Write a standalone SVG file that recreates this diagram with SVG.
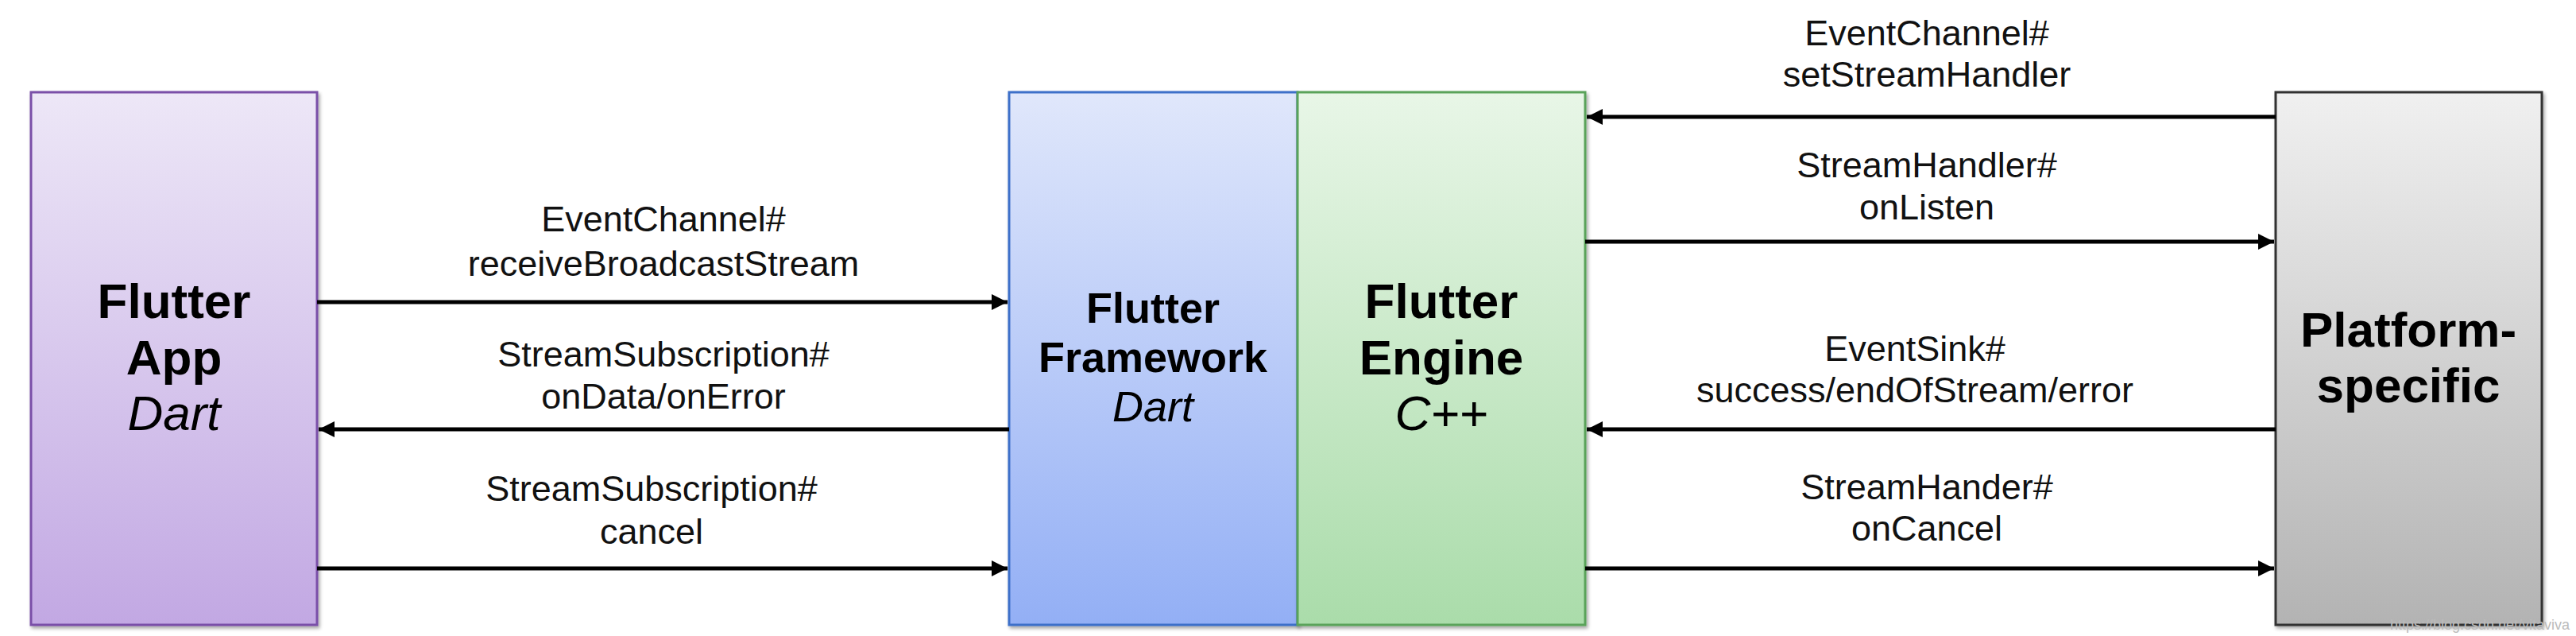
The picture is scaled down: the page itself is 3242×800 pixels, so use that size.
<svg xmlns="http://www.w3.org/2000/svg" width="3242" height="800" viewBox="0 0 3242 800">
<defs>
<linearGradient id="gp" x1="0" y1="0" x2="0" y2="1"><stop offset="0" stop-color="#ede7f7"/><stop offset="1" stop-color="#c2a8e3"/></linearGradient>
<linearGradient id="gb" x1="0" y1="0" x2="0" y2="1"><stop offset="0" stop-color="#e0e7fb"/><stop offset="1" stop-color="#93aff5"/></linearGradient>
<linearGradient id="gg" x1="0" y1="0" x2="0" y2="1"><stop offset="0" stop-color="#e8f6e7"/><stop offset="1" stop-color="#aadcaa"/></linearGradient>
<linearGradient id="gy" x1="0" y1="0" x2="0" y2="1"><stop offset="0" stop-color="#f0f0f0"/><stop offset="1" stop-color="#b3b3b3"/></linearGradient>
<filter id="sh" x="-5%" y="-5%" width="110%" height="110%"><feDropShadow dx="2" dy="3" stdDeviation="2" flood-opacity="0.35"/></filter>
<marker id="ah" viewBox="0 0 10 10" refX="10" refY="5" markerWidth="4" markerHeight="4" orient="auto-start-reverse"><path d="M0,0 L10,5 L0,10 z" fill="#000"/></marker>
</defs>
<style>
.t{font-family:"Liberation Sans",Arial,sans-serif;text-anchor:middle}
.b{font-weight:bold;fill:#000}
.i{font-style:italic}
.l{font-size:45px;fill:#111}
.c{stroke:#000;stroke-width:5;fill:none}
</style>
<rect width="3242" height="800" fill="#fff"/>
<g id="app">
<rect x="39" y="116" width="360" height="670" fill="url(#gp)" stroke="#7a4fa8" stroke-width="3" filter="url(#sh)"/>
<text class="t b" font-size="62" x="219" y="400">Flutter</text>
<text class="t b" font-size="62" x="219" y="471">App</text>
<text class="t i" font-size="62" x="219" y="541">Dart</text>
</g>
<g id="framework">
<rect x="1270" y="116" width="363" height="670" fill="url(#gb)" stroke="#3d6fc9" stroke-width="3" filter="url(#sh)"/>
<text class="t b" font-size="54" x="1451" y="406">Flutter</text>
<text class="t b" font-size="54" x="1451" y="468">Framework</text>
<text class="t i" font-size="54" x="1451" y="530">Dart</text>
</g>
<g id="engine">
<rect x="1633" y="116" width="362" height="670" fill="url(#gg)" stroke="#5aa35a" stroke-width="3" filter="url(#sh)"/>
<text class="t b" font-size="62" x="1814" y="400">Flutter</text>
<text class="t b" font-size="62" x="1814" y="471">Engine</text>
<text class="t i" font-size="62" x="1814" y="541">C++</text>
</g>
<g id="platform">
<rect x="2864" y="116" width="335" height="670" fill="url(#gy)" stroke="#333" stroke-width="3" filter="url(#sh)"/>
<text class="t b" font-size="62" x="3031" y="436">Platform-</text>
<text class="t b" font-size="62" x="3031" y="506">specific</text>
</g>
<g id="connectors">
<line class="c" x1="399" y1="380" x2="1268" y2="380" marker-end="url(#ah)"/>
<line class="c" x1="1270" y1="540" x2="401" y2="540" marker-end="url(#ah)"/>
<line class="c" x1="399" y1="715" x2="1268" y2="715" marker-end="url(#ah)"/>
<line class="c" x1="2864" y1="147" x2="1997" y2="147" marker-end="url(#ah)"/>
<line class="c" x1="1995" y1="304" x2="2862" y2="304" marker-end="url(#ah)"/>
<line class="c" x1="2864" y1="540" x2="1997" y2="540" marker-end="url(#ah)"/>
<line class="c" x1="1995" y1="715" x2="2862" y2="715" marker-end="url(#ah)"/>
</g>
<g id="labels">
<text class="t l" x="835" y="291">EventChannel#</text>
<text class="t l" x="835" y="347">receiveBroadcastStream</text>
<text class="t l" x="835" y="461">StreamSubscription#</text>
<text class="t l" x="835" y="514">onData/onError</text>
<text class="t l" x="820" y="630">StreamSubscription#</text>
<text class="t l" x="820" y="684">cancel</text>
<text class="t l" x="2425" y="57">EventChannel#</text>
<text class="t l" x="2425" y="109">setStreamHandler</text>
<text class="t l" x="2425" y="223">StreamHandler#</text>
<text class="t l" x="2425" y="276">onListen</text>
<text class="t l" x="2410" y="454">EventSink#</text>
<text class="t l" x="2410" y="506">success/endOfStream/error</text>
<text class="t l" x="2425" y="628">StreamHander#</text>
<text class="t l" x="2425" y="680">onCancel</text>
</g>
<text font-family="Liberation Sans,Arial,sans-serif" font-size="18" fill="#bbb" text-anchor="end" x="3234" y="792">https://blog.csdn.net/vitaviva</text>
</svg>
